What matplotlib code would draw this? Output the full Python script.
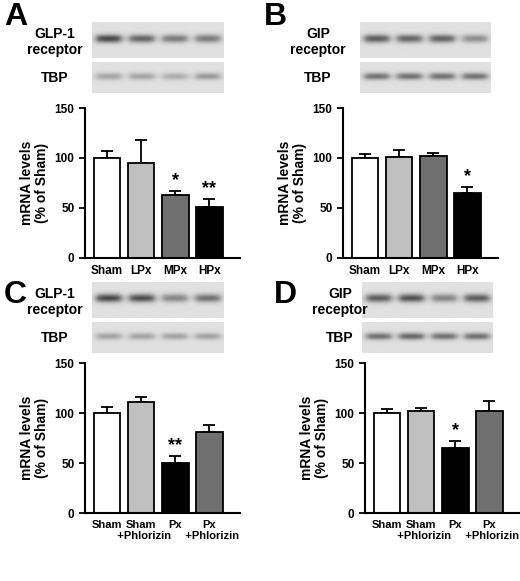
import numpy as np
import matplotlib
matplotlib.use("Agg")
import matplotlib.pyplot as plt

plt.rcParams['font.family'] = ['Liberation Sans', 'DejaVu Sans']
plt.rcParams['font.weight'] = 'bold'

W, H = 520, 581
cats_AB = ["Sham", "LPx", "MPx", "HPx"]
cats_CD = ["Sham", "Sham\n  +Phlorizin", "Px", "Px\n  +Phlorizin"]
A_val = [100, 95, 63, 51]; A_err = [7, 23, 4, 8]; A_sig = ["", "", "*", "**"]
B_val = [100, 101, 102, 65]; B_err = [4, 7, 3, 6]; B_sig = ["", "", "", "*"]
C_val = [100, 111, 50, 81]; C_err = [6, 5, 7, 7]; C_sig = ["", "", "**", ""]
D_val = [100, 102, 65, 102]; D_err = [4, 3, 7, 10]; D_sig = ["", "", "*", ""]
col_AB = ["white", "#c0c0c0", "#707070", "black"]
col_CD = ["white", "#c0c0c0", "black", "#707070"]
# band intensities (darkness 0-1) per lane
A_rec = [0.75, 0.6, 0.5, 0.5]; A_tbp = [0.3, 0.3, 0.25, 0.35]
B_rec = [0.65, 0.6, 0.62, 0.4]; B_tbp = [0.55, 0.55, 0.55, 0.55]
C_rec = [0.75, 0.72, 0.45, 0.55]; C_tbp = [0.3, 0.3, 0.3, 0.3]
D_rec = [0.65, 0.7, 0.45, 0.65]; D_tbp = [0.55, 0.6, 0.55, 0.55]

fig = plt.figure(figsize=(W/100, H/100), dpi=100)

def ax_px(x0, y0, x1, y1):
    return fig.add_axes([x0/W, 1-y1/H, (x1-x0)/W, (y1-y0)/H])

def blot(x0, y0, x1, y1, inten):
    ax = ax_px(x0, y0, x1, y1)
    h, w = 40, 160
    yy = np.arange(h)[:, None]; xx = np.arange(w)[None, :]
    img = np.full((h, w), 0.88)
    for i, v in enumerate(inten):
        cx = (i + 0.5) * w / 4
        hor = 1/(1+np.exp((np.abs(xx-cx)-15)/2.5))
        ver = np.exp(-((yy-h*0.45)/4.5)**2)
        img -= 0.8*v*hor*ver
    ax.imshow(img, cmap='gray', vmin=0, vmax=1, aspect='auto')
    ax.axis('off')

def bars(x0, y0, x1, y1, cats, vals, errs, sigs, cols, fs):
    ax = ax_px(x0, y0, x1, y1)
    x = np.arange(len(vals))
    ax.bar(x, vals, width=0.78, color=cols, edgecolor='black', linewidth=1.3, zorder=2)
    ax.errorbar(x, vals, yerr=[np.zeros(4), errs], fmt='none', ecolor='black',
                elinewidth=1.3, capsize=4, capthick=1.3, zorder=1)
    for xi, v, e, s in zip(x, vals, errs, sigs):
        if s:
            ax.text(xi, v+e+2, s, ha='center', va='bottom', fontsize=13, fontweight='bold')
    ax.set_ylim(0, 150); ax.set_yticks([0, 50, 100, 150])
    ax.set_xlim(-0.65, 3.9)
    ax.set_xticks(x); ax.set_xticklabels(cats, fontsize=fs, fontweight='bold', linespacing=1.1)
    ax.tick_params(axis='x', length=0, pad=5)
    ax.tick_params(axis='y', labelsize=8.5, width=1.3, length=4)
    for t in ax.get_yticklabels(): t.set_fontweight('bold')
    for s in ['top', 'right']: ax.spines[s].set_visible(False)
    for s in ['left', 'bottom']: ax.spines[s].set_linewidth(1.5)
    ax.set_ylabel("mRNA levels\n(% of Sham)", fontsize=10, fontweight='bold', linespacing=1.1)

panels = [
    ("A", 0, 0, "GLP-1\nreceptor", A_rec, A_tbp, cats_AB, A_val, A_err, A_sig, col_AB),
    ("B", 260, 0, "GIP\nreceptor", B_rec, B_tbp, cats_AB, B_val, B_err, B_sig, col_AB),
    ("C", 0, 260, "GLP-1\nreceptor", C_rec, C_tbp, cats_CD, C_val, C_err, C_sig, col_CD),
    ("D", 270, 260, "GIP\nreceptor", D_rec, D_tbp, cats_CD, D_val, D_err, D_sig, col_CD),
]
for letter, dx, dy, rlab, rec, tbp, cats, vals, errs, sigs, cols in panels:
    bx = 92 + dx + (8 if letter == "B" else 0)
    fig.text((4+dx)/W, 1-(17+dy+(18 if dy else 0))/H, letter, fontsize=23, fontweight='bold', va='center')
    yoff = dy
    blot(bx, 22+yoff, bx+131, 58+yoff, rec)
    blot(bx, 62+yoff, bx+131, 93+yoff, tbp)
    lx = 55 + dx + (3 if letter == "B" else 0) + (15 if letter == "D" else 0)
    fig.text(lx/W, 1-(42+yoff)/H, rlab, ha='center', va='center', fontsize=10, fontweight='bold', linespacing=1.15)
    fig.text(lx/W, 1-(78+yoff)/H, "TBP", ha='center', va='center', fontsize=10, fontweight='bold')
    ax0 = 85 + dx + (0 if letter in "AC" else (-2 if letter == "B" else 10))
    y0 = 108 if not dy else 363
    bars(ax0, y0, ax0+155, y0+150, cats, vals, errs, sigs, cols, 8.5 if not dy else 8)

fig.savefig("out.png", dpi=100, facecolor='white')
